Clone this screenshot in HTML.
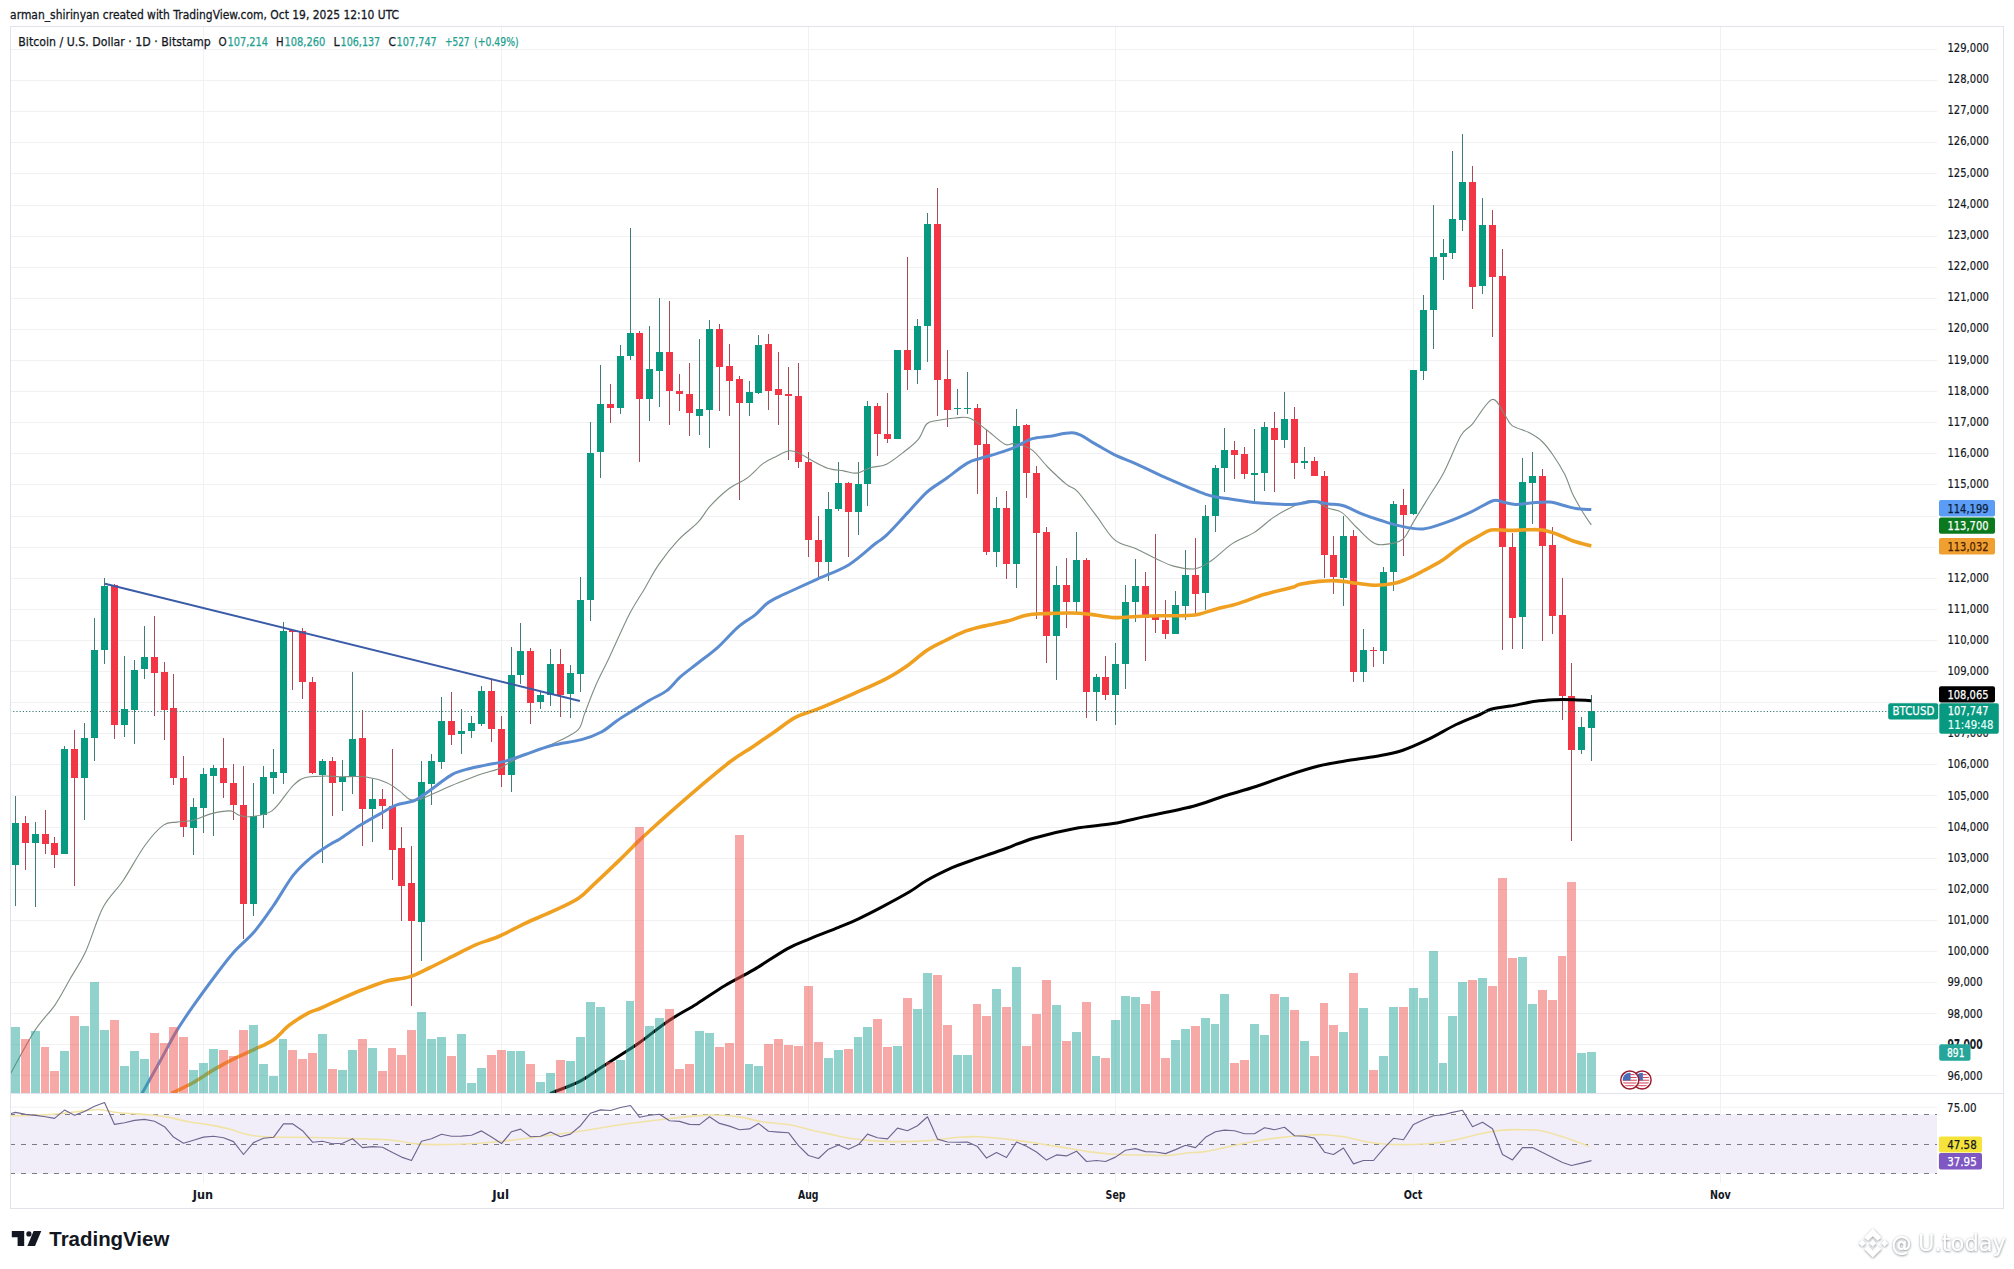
<!DOCTYPE html><html><head><meta charset="utf-8"><title>BTCUSD chart</title><style>html,body{margin:0;padding:0;background:#fff}svg{display:block}text{font-family:'DejaVu Sans', 'Liberation Sans', sans-serif}</style></head><body>
<svg width="2014" height="1269" viewBox="0 0 2014 1269">
<rect width="2014" height="1269" fill="#fff"/>
<text x="10.1" y="19.1" font-size="12.6" fill="#131722" stroke="#131722" stroke-width="0.3" textLength="389" lengthAdjust="spacingAndGlyphs" id="hdr">arman_shirinyan created with TradingView.com, Oct 19, 2025 12:10 UTC</text>
<path d="M10 1075.5H1937 M10 1044.5H1937 M10 1013.5H1937 M10 982.5H1937 M10 951.5H1937 M10 920.5H1937 M10 889.5H1937 M10 858.5H1937 M10 827.5H1937 M10 795.5H1937 M10 764.5H1937 M10 733.5H1937 M10 702.5H1937 M10 671.5H1937 M10 640.5H1937 M10 609.5H1937 M10 578.5H1937 M10 547.5H1937 M10 516.5H1937 M10 484.5H1937 M10 453.5H1937 M10 422.5H1937 M10 391.5H1937 M10 360.5H1937 M10 329.5H1937 M10 298.5H1937 M10 267.5H1937 M10 236.5H1937 M10 205.5H1937 M10 173.5H1937 M10 142.5H1937 M10 111.5H1937 M10 80.5H1937 M10 49.5H1937" stroke="#f1f1f3" stroke-width="1" fill="none"/>
<path d="M203.5 27V1183 M501.5 27V1183 M808.5 27V1183 M1115.5 27V1183 M1413.5 27V1183 M1720.5 27V1183" stroke="#f1f1f3" stroke-width="1" fill="none"/>
<path d="M10 1107.2H1937" stroke="#f1f1f3" stroke-width="1"/>
<rect x="10" y="1114.5" width="1927" height="59.0" fill="#f2eef9"/>
<path d="M10 1114.5H1937 M10 1144.5H1937 M10 1173.5H1937" stroke="#787b86" stroke-width="1" stroke-dasharray="5 6" fill="none"/>
<defs><clipPath id="mc"><rect x="10" y="27" width="1927" height="1066.5"/></clipPath><clipPath id="rc"><rect x="10" y="1094" width="1927" height="89"/></clipPath></defs>
<g clip-path="url(#mc)">
<path d="M15 796h1V906h-1Z M35 822h1V907h-1Z M64 746h1V854h-1Z M84 723h1V820h-1Z M94 618h1V761h-1Z M104 578h1V664h-1Z M124 656h1V737h-1Z M134 660h1V744h-1Z M144 626h1V679h-1Z M193 798h1V855h-1Z M203 768h1V833h-1Z M213 765h1V836h-1Z M253 783h1V916h-1Z M263 766h1V828h-1Z M273 749h1V794h-1Z M283 622h1V784h-1Z M322 759h1V863h-1Z M342 760h1V811h-1Z M352 672h1V794h-1Z M372 779h1V842h-1Z M421 761h1V961h-1Z M431 754h1V805h-1Z M441 697h1V769h-1Z M461 709h1V754h-1Z M471 716h1V738h-1Z M481 686h1V726h-1Z M511 647h1V792h-1Z M520 623h1V684h-1Z M540 691h1V709h-1Z M550 649h1V706h-1Z M570 665h1V718h-1Z M580 577h1V692h-1Z M590 422h1V621h-1Z M600 365h1V478h-1Z M620 345h1V414h-1Z M630 228h1V360h-1Z M649 326h1V421h-1Z M659 298h1V407h-1Z M699 339h1V435h-1Z M709 320h1V448h-1Z M749 381h1V416h-1Z M758 335h1V394h-1Z M828 492h1V581h-1Z M838 462h1V511h-1Z M858 462h1V535h-1Z M867 401h1V506h-1Z M897 350h1V439h-1Z M917 319h1V384h-1Z M927 213h1V362h-1Z M957 389h1V415h-1Z M967 372h1V414h-1Z M996 497h1V567h-1Z M1016 409h1V588h-1Z M1056 566h1V680h-1Z M1076 532h1V612h-1Z M1096 674h1V721h-1Z M1115 643h1V725h-1Z M1125 585h1V689h-1Z M1135 559h1V622h-1Z M1175 591h1V634h-1Z M1185 550h1V620h-1Z M1205 505h1V610h-1Z M1215 465h1V532h-1Z M1224 428h1V492h-1Z M1254 429h1V502h-1Z M1264 422h1V491h-1Z M1284 392h1V448h-1Z M1304 447h1V469h-1Z M1343 516h1V606h-1Z M1363 629h1V682h-1Z M1383 567h1V664h-1Z M1393 501h1V591h-1Z M1413 370h1V515h-1Z M1423 295h1V380h-1Z M1433 205h1V349h-1Z M1443 239h1V280h-1Z M1452 151h1V259h-1Z M1462 134h1V231h-1Z M1482 198h1V294h-1Z M1522 458h1V649h-1Z M1532 452h1V524h-1Z M1581 717h1V754h-1Z M1591 695h1V761h-1Z" fill="#3f7d74"/>
<path d="M25 816h1V870h-1Z M45 810h1V854h-1Z M54 837h1V868h-1Z M74 730h1V886h-1Z M114 584h1V739h-1Z M154 616h1V716h-1Z M164 662h1V740h-1Z M173 674h1V785h-1Z M183 756h1V837h-1Z M223 738h1V798h-1Z M233 764h1V820h-1Z M243 766h1V939h-1Z M292 630h1V690h-1Z M302 628h1V699h-1Z M312 677h1V774h-1Z M332 757h1V816h-1Z M362 710h1V846h-1Z M382 789h1V829h-1Z M392 749h1V880h-1Z M401 827h1V921h-1Z M411 846h1V1006h-1Z M451 692h1V745h-1Z M491 680h1V742h-1Z M501 716h1V787h-1Z M530 648h1V724h-1Z M560 649h1V717h-1Z M610 384h1V423h-1Z M639 331h1V462h-1Z M669 301h1V425h-1Z M679 374h1V411h-1Z M689 363h1V436h-1Z M719 324h1V411h-1Z M729 344h1V416h-1Z M739 376h1V500h-1Z M768 334h1V410h-1Z M778 352h1V425h-1Z M788 367h1V460h-1Z M798 363h1V468h-1Z M808 452h1V557h-1Z M818 516h1V578h-1Z M848 482h1V557h-1Z M877 403h1V456h-1Z M887 393h1V443h-1Z M907 257h1V390h-1Z M937 188h1V416h-1Z M947 350h1V427h-1Z M977 404h1V494h-1Z M986 430h1V555h-1Z M1006 491h1V579h-1Z M1026 424h1V498h-1Z M1036 466h1V619h-1Z M1046 527h1V663h-1Z M1066 558h1V628h-1Z M1086 558h1V718h-1Z M1105 656h1V700h-1Z M1145 572h1V661h-1Z M1155 534h1V633h-1Z M1165 600h1V639h-1Z M1195 538h1V615h-1Z M1234 441h1V479h-1Z M1244 447h1V479h-1Z M1274 412h1V492h-1Z M1294 407h1V479h-1Z M1314 457h1V476h-1Z M1324 471h1V578h-1Z M1333 536h1V594h-1Z M1353 530h1V682h-1Z M1373 647h1V667h-1Z M1403 489h1V556h-1Z M1472 166h1V309h-1Z M1492 210h1V337h-1Z M1502 249h1V650h-1Z M1512 533h1V649h-1Z M1542 469h1V641h-1Z M1552 527h1V634h-1Z M1562 578h1V720h-1Z M1571 663h1V841h-1Z" fill="#a54b57"/>
<path d="M12 823h7V865h-7Z M32 834h7V843h-7Z M61 749h7V854h-7Z M81 738h7V778h-7Z M91 650h7V738h-7Z M101 586h7V650h-7Z M121 709h7V725h-7Z M131 670h7V710h-7Z M141 657h7V669h-7Z M190 807h7V828h-7Z M200 774h7V808h-7Z M210 768h7V776h-7Z M250 816h7V904h-7Z M260 777h7V815h-7Z M270 772h7V778h-7Z M280 631h7V773h-7Z M319 761h7V775h-7Z M339 777h7V782h-7Z M349 739h7V777h-7Z M369 799h7V809h-7Z M418 782h7V922h-7Z M428 761h7V784h-7Z M438 721h7V762h-7Z M458 731h7V734h-7Z M468 723h7V731h-7Z M478 691h7V724h-7Z M508 675h7V775h-7Z M517 651h7V675h-7Z M537 695h7V702h-7Z M547 664h7V695h-7Z M567 673h7V694h-7Z M577 600h7V674h-7Z M587 453h7V600h-7Z M597 404h7V452h-7Z M617 356h7V408h-7Z M627 333h7V356h-7Z M646 369h7V399h-7Z M656 352h7V371h-7Z M696 409h7V416h-7Z M706 329h7V410h-7Z M746 392h7V403h-7Z M755 345h7V393h-7Z M825 509h7V562h-7Z M835 483h7V509h-7Z M855 484h7V512h-7Z M864 406h7V484h-7Z M894 350h7V439h-7Z M914 326h7V370h-7Z M924 224h7V326h-7Z M954 408h7V409h-7Z M964 408h7V409h-7Z M993 508h7V552h-7Z M1013 426h7V564h-7Z M1053 585h7V636h-7Z M1073 560h7V602h-7Z M1093 677h7V692h-7Z M1112 664h7V695h-7Z M1122 602h7V664h-7Z M1132 586h7V602h-7Z M1172 605h7V634h-7Z M1182 575h7V606h-7Z M1202 516h7V593h-7Z M1212 468h7V516h-7Z M1221 450h7V468h-7Z M1251 473h7V475h-7Z M1261 427h7V473h-7Z M1281 419h7V440h-7Z M1301 461h7V463h-7Z M1340 536h7V578h-7Z M1360 650h7V672h-7Z M1380 572h7V651h-7Z M1390 504h7V572h-7Z M1410 370h7V514h-7Z M1420 310h7V371h-7Z M1430 257h7V310h-7Z M1440 253h7V257h-7Z M1449 219h7V253h-7Z M1459 182h7V220h-7Z M1479 225h7V286h-7Z M1519 482h7V617h-7Z M1529 476h7V483h-7Z M1578 727h7V750h-7Z M1588 711h7V728h-7Z" fill="#089981"/>
<path d="M22 823h7V843h-7Z M42 834h7V844h-7Z M51 843h7V855h-7Z M71 749h7V778h-7Z M111 585h7V725h-7Z M151 657h7V673h-7Z M161 672h7V710h-7Z M170 708h7V778h-7Z M180 778h7V827h-7Z M220 768h7V783h-7Z M230 783h7V805h-7Z M240 805h7V904h-7Z M289 630h7V632h-7Z M299 631h7V682h-7Z M309 682h7V773h-7Z M329 761h7V783h-7Z M359 738h7V809h-7Z M379 799h7V806h-7Z M389 806h7V850h-7Z M398 848h7V886h-7Z M408 883h7V921h-7Z M448 721h7V735h-7Z M488 691h7V729h-7Z M498 729h7V775h-7Z M527 651h7V703h-7Z M557 664h7V695h-7Z M607 404h7V408h-7Z M636 333h7V399h-7Z M666 352h7V391h-7Z M676 391h7V394h-7Z M686 394h7V413h-7Z M716 329h7V367h-7Z M726 366h7V381h-7Z M736 379h7V403h-7Z M765 344h7V391h-7Z M775 389h7V395h-7Z M785 394h7V396h-7Z M795 396h7V462h-7Z M805 462h7V540h-7Z M815 540h7V562h-7Z M845 483h7V512h-7Z M874 406h7V434h-7Z M884 434h7V439h-7Z M904 350h7V370h-7Z M934 224h7V380h-7Z M944 379h7V410h-7Z M974 408h7V445h-7Z M983 444h7V552h-7Z M1003 508h7V564h-7Z M1023 425h7V473h-7Z M1033 473h7V533h-7Z M1043 532h7V636h-7Z M1063 585h7V602h-7Z M1083 560h7V692h-7Z M1102 677h7V695h-7Z M1142 586h7V618h-7Z M1152 617h7V620h-7Z M1162 620h7V634h-7Z M1192 575h7V594h-7Z M1231 450h7V455h-7Z M1241 454h7V474h-7Z M1271 428h7V440h-7Z M1291 419h7V463h-7Z M1311 461h7V476h-7Z M1321 476h7V555h-7Z M1330 555h7V577h-7Z M1350 536h7V672h-7Z M1370 650h7V651h-7Z M1400 505h7V515h-7Z M1469 182h7V287h-7Z M1489 225h7V277h-7Z M1499 276h7V547h-7Z M1509 547h7V618h-7Z M1539 476h7V546h-7Z M1549 545h7V616h-7Z M1559 615h7V696h-7Z M1568 696h7V750h-7Z" fill="#f23645"/>
<path d="M10.0 1075.0C10.1 1074.7 6.6 1080.8 10.7 1073.4C14.8 1066.0 27.4 1042.0 34.8 1030.6C42.2 1019.2 49.1 1013.6 54.9 1005.1C60.7 996.6 64.5 988.6 69.6 979.7C74.7 970.8 80.1 963.6 85.7 951.5C91.3 939.4 96.8 919.1 103.1 907.3C109.3 895.5 116.3 890.8 123.2 880.5C130.1 870.2 138.0 854.9 144.7 845.7C151.4 836.5 158.1 829.0 163.4 825.1C168.8 821.2 171.9 822.9 176.8 822.1C181.7 821.3 187.1 821.7 192.9 820.3C198.7 818.9 205.3 815.2 211.6 813.6C217.8 812.0 225.9 810.7 230.4 810.9C234.9 811.1 235.3 813.9 238.4 814.9C241.5 815.9 243.5 817.5 249.1 816.8C254.7 816.1 264.8 815.9 271.9 810.9C279.0 805.9 286.6 792.3 292.0 786.8C297.4 781.3 298.6 779.7 304.0 777.9C309.4 776.1 318.1 776.3 324.1 776.1C330.1 775.9 332.9 776.6 339.9 776.7C346.9 776.9 358.6 776.0 366.3 777.0C374.0 778.0 380.7 780.3 386.2 782.6C391.7 784.9 395.5 788.1 399.4 790.9C403.3 793.7 406.1 797.7 409.4 799.2C412.7 800.7 414.9 800.9 419.3 799.8C423.7 798.7 429.3 795.4 435.9 792.5C442.5 789.6 451.3 785.7 459.0 782.6C466.7 779.5 475.6 776.0 482.2 773.7C488.8 771.4 493.2 771.1 498.7 768.7C504.2 766.3 509.2 762.3 515.3 759.4C521.4 756.5 528.0 754.2 535.2 751.2C542.4 748.2 551.1 744.8 558.3 741.2C565.5 737.6 573.8 734.4 578.2 729.7C582.6 725.0 581.9 720.4 584.8 713.1C587.7 705.8 591.5 695.0 595.6 685.7C599.7 676.4 603.8 669.0 609.4 657.2C615.0 645.4 623.2 626.3 629.1 614.8C635.0 603.3 640.0 596.6 644.9 588.2C649.8 579.8 653.1 572.7 658.7 564.6C664.3 556.5 671.8 547.0 678.4 539.9C685.0 532.8 692.9 527.8 698.1 522.2C703.4 516.6 705.0 511.8 709.9 506.4C714.8 501.0 721.4 494.4 727.6 489.7C733.8 484.9 741.3 482.3 747.3 477.9C753.2 473.5 758.4 467.0 763.3 463.4C768.2 459.8 772.5 458.3 776.7 456.2C780.9 454.1 785.1 451.4 788.7 450.8C792.3 450.2 794.3 451.1 798.1 452.7C801.9 454.3 806.6 457.6 811.5 460.2C816.4 462.8 822.2 466.4 827.6 468.2C833.0 470.0 838.7 470.1 843.6 470.9C848.5 471.7 852.5 473.6 857.0 473.1C861.5 472.6 865.5 469.2 870.4 467.7C875.3 466.2 880.7 467.0 886.5 464.2C892.3 461.4 899.9 455.0 905.3 450.8C910.7 446.6 915.1 443.3 918.7 438.8C922.3 434.3 923.6 427.1 926.7 424.0C929.8 420.9 932.7 421.5 937.4 420.5C942.1 419.5 949.6 418.4 955.0 418.0C960.4 417.6 964.8 416.3 970.0 418.2C975.2 420.1 980.3 425.2 986.1 429.5C991.9 433.8 1000.1 441.8 1004.8 444.2C1009.5 446.6 1009.7 442.8 1014.2 443.7C1018.7 444.6 1026.0 445.7 1031.6 449.6C1037.2 453.5 1041.9 461.2 1047.7 467.0C1053.5 472.8 1061.6 480.4 1066.5 484.4C1071.4 488.4 1072.3 486.0 1077.2 491.1C1082.1 496.2 1089.7 507.1 1095.9 515.2C1102.2 523.3 1108.0 534.3 1114.7 539.9C1121.4 545.5 1128.9 545.5 1136.1 548.7C1143.2 552.0 1151.3 556.5 1157.6 559.4C1163.8 562.3 1167.3 564.5 1173.6 566.1C1179.8 567.7 1188.8 569.7 1195.1 568.8C1201.4 567.9 1205.0 565.0 1211.2 560.8C1217.5 556.6 1225.5 548.1 1232.6 543.4C1239.7 538.7 1247.3 536.9 1254.0 532.6C1260.7 528.4 1267.0 521.9 1272.8 517.9C1278.6 513.9 1282.7 511.4 1288.9 508.5C1295.1 505.6 1303.4 500.6 1310.0 500.5C1316.6 500.4 1323.1 506.2 1328.4 508.2C1333.7 510.2 1336.9 509.2 1341.6 512.4C1346.3 515.6 1351.7 522.6 1356.7 527.5C1361.8 532.4 1367.5 538.9 1371.9 541.7C1376.3 544.6 1378.2 544.9 1383.2 544.6C1388.2 544.3 1397.0 543.6 1402.1 539.8C1407.1 536.0 1409.1 529.0 1413.5 521.9C1417.9 514.8 1423.6 505.5 1428.6 497.3C1433.6 489.1 1438.3 482.9 1443.7 472.7C1449.1 462.4 1456.1 443.9 1460.8 435.8C1465.5 427.8 1466.9 430.4 1472.1 424.4C1477.3 418.3 1486.6 401.2 1492.0 399.5C1497.4 397.8 1501.0 409.7 1504.3 414.0C1507.6 418.3 1507.7 422.3 1511.8 425.4C1515.9 428.5 1523.9 429.9 1528.9 432.6C1534.0 435.3 1538.0 437.6 1542.1 441.5C1546.2 445.4 1549.7 450.2 1553.5 455.7C1557.3 461.2 1561.6 468.3 1564.8 474.6C1568.0 480.9 1569.6 487.5 1572.4 493.5C1575.2 499.5 1578.7 505.2 1581.8 510.5C1584.9 515.8 1589.7 522.6 1591.3 525.0" fill="none" stroke="#7f8d80" stroke-width="1.1" stroke-linejoin="round"/>
<path d="M142.0 1093.5C145.1 1087.9 154.9 1070.5 160.7 1060.0C166.5 1049.5 171.4 1039.5 176.8 1030.6C182.2 1021.7 186.7 1015.3 192.9 1006.4C199.2 997.5 207.6 985.9 214.3 977.0C221.0 968.1 226.4 960.5 233.1 952.9C239.8 945.3 247.8 939.2 254.5 931.4C261.2 923.6 266.7 915.4 273.2 906.0C279.7 896.6 287.1 883.2 293.3 875.2C299.6 867.2 304.6 862.9 310.7 857.8C316.8 852.7 325.1 847.5 330.0 844.4C334.9 841.2 334.9 842.0 339.9 838.9C344.8 835.8 353.1 829.7 359.7 825.6C366.3 821.5 373.5 817.5 379.6 814.1C385.7 810.7 390.0 807.5 396.1 805.1C402.2 802.7 409.4 803.0 416.0 799.8C422.6 796.6 429.8 790.1 435.9 785.9C442.0 781.6 446.9 777.2 452.4 774.3C457.9 771.4 463.5 770.2 469.0 768.7C474.5 767.2 479.4 766.4 485.5 765.1C491.6 763.8 498.8 762.9 505.4 761.1C512.0 759.3 517.5 757.1 525.2 754.5C532.9 751.9 542.3 748.0 551.7 745.5C561.1 743.0 573.2 741.9 581.5 739.6C589.8 737.4 595.4 735.2 601.4 732.0C607.4 728.8 611.7 724.3 617.3 720.5C622.9 716.7 629.5 712.8 635.0 709.4C640.5 706.0 644.7 703.1 650.0 700.0C655.3 696.9 661.8 694.5 666.8 690.6C671.8 686.8 675.1 681.5 680.3 676.9C685.5 672.3 691.8 667.9 698.0 663.0C704.2 658.1 711.2 653.2 717.8 647.3C724.4 641.4 731.3 633.0 737.5 627.6C743.7 622.2 750.3 618.8 755.2 614.8C760.1 610.8 762.9 606.6 767.0 603.5C771.1 600.4 776.1 598.1 780.0 596.1C783.9 594.1 784.0 594.3 790.1 591.5C796.2 588.7 807.0 583.9 816.8 579.4C826.6 574.9 839.2 570.7 849.0 564.7C858.8 558.7 869.5 548.2 875.8 543.3C882.0 538.4 881.1 540.4 886.5 535.2C891.9 530.1 901.3 519.5 908.0 512.4C914.7 505.2 920.5 497.9 926.7 492.3C933.0 486.7 938.8 483.8 945.5 479.0C952.2 474.2 961.1 466.8 966.9 463.4C972.6 460.0 975.0 460.1 980.0 458.5C985.0 456.9 991.3 455.3 996.8 453.6C1002.3 451.9 1007.1 450.6 1012.9 448.2C1018.7 445.8 1025.3 440.9 1031.6 438.9C1037.8 436.9 1043.2 437.2 1050.4 436.2C1057.6 435.2 1067.3 431.9 1074.5 433.0C1081.7 434.1 1086.6 439.2 1093.3 442.9C1100.0 446.5 1107.6 451.4 1114.7 454.9C1121.8 458.4 1127.6 460.0 1136.1 463.8C1144.6 467.6 1154.0 472.6 1165.6 477.7C1177.2 482.8 1195.5 490.8 1205.8 494.3C1216.1 497.8 1219.2 497.2 1227.2 498.6C1235.2 500.0 1243.3 501.4 1254.0 502.4C1264.7 503.4 1281.6 504.6 1291.5 504.5C1301.4 504.4 1307.0 501.7 1313.2 501.6C1319.4 501.5 1323.4 503.2 1328.4 503.9C1333.5 504.6 1338.2 504.2 1343.5 505.8C1348.8 507.4 1354.5 510.9 1360.5 513.3C1366.5 515.7 1373.1 518.0 1379.4 520.0C1385.7 522.0 1391.2 524.1 1398.4 525.6C1405.7 527.1 1414.7 529.5 1422.9 528.9C1431.1 528.3 1439.6 524.6 1447.5 521.9C1455.4 519.1 1462.6 515.9 1470.2 512.4C1477.8 508.9 1487.5 502.4 1492.9 500.7C1498.3 499.0 1498.6 501.4 1502.4 502.0C1506.2 502.6 1510.9 504.3 1515.6 504.5C1520.3 504.7 1525.1 503.4 1530.8 503.0C1536.5 502.6 1544.0 501.5 1549.7 502.0C1555.4 502.5 1560.4 504.7 1564.8 505.8C1569.2 506.9 1571.7 508.0 1576.1 508.6C1580.5 509.2 1588.8 509.4 1591.3 509.6" fill="none" stroke="#5b8cd0" stroke-width="3" stroke-linejoin="round"/>
<path d="M172.0 1093.5C172.3 1093.3 170.6 1094.0 174.1 1092.2C177.6 1090.4 186.2 1086.6 192.9 1082.8C199.6 1079.0 207.2 1073.6 214.3 1069.4C221.4 1065.2 229.0 1061.2 235.7 1057.9C242.4 1054.6 248.2 1052.3 254.5 1049.3C260.8 1046.3 267.4 1043.9 273.2 1039.9C279.0 1035.9 283.5 1029.7 289.3 1025.2C295.1 1020.7 303.0 1015.9 308.1 1013.1C313.2 1010.3 314.7 1010.8 320.0 1008.5C325.3 1006.2 332.7 1002.6 339.9 999.4C347.1 996.2 355.3 992.5 363.0 989.5C370.7 986.5 378.5 983.3 386.2 981.2C393.9 979.1 402.2 979.1 409.4 976.9C416.6 974.7 422.0 971.4 429.2 968.0C436.4 964.6 444.7 960.3 452.4 956.4C460.1 952.5 467.9 948.1 475.6 944.8C483.3 941.5 490.4 940.1 498.7 936.5C507.0 932.9 516.4 927.4 525.2 923.3C534.0 919.2 542.9 915.8 551.7 911.7C560.5 907.6 571.0 903.2 578.2 898.5C585.4 893.8 587.7 890.1 594.7 883.6C601.7 877.1 612.8 866.6 620.0 859.6C627.2 852.6 632.7 846.8 637.7 841.9C642.7 837.0 644.7 835.4 650.0 830.5C655.3 825.6 661.3 820.1 669.6 812.8C677.9 805.5 689.4 795.4 699.6 786.8C709.8 778.2 722.0 767.9 730.8 761.3C739.6 754.6 745.3 751.8 752.5 746.9C759.7 742.0 766.9 737.1 774.0 732.2C781.1 727.3 788.3 721.2 795.4 717.4C802.5 713.6 807.0 713.4 816.8 709.4C826.6 705.4 842.8 698.4 854.4 693.3C866.0 688.2 877.6 683.3 886.5 678.6C895.4 673.9 901.3 669.9 908.0 665.2C914.7 660.5 920.5 654.5 926.7 650.4C933.0 646.3 939.2 643.6 945.5 640.5C951.8 637.4 958.5 634.0 964.2 631.7C970.0 629.5 975.9 628.1 980.0 627.0C984.1 625.9 984.2 626.1 988.8 625.1C993.4 624.1 1001.2 622.8 1007.5 621.1C1013.8 619.5 1020.0 616.5 1026.3 615.2C1032.5 614.0 1037.4 614.0 1045.0 613.6C1052.6 613.2 1064.2 612.9 1071.8 613.0C1079.4 613.1 1083.4 613.6 1090.6 614.4C1097.8 615.2 1107.1 617.2 1114.7 617.6C1122.3 618.0 1128.9 616.8 1136.1 616.5C1143.2 616.2 1150.0 615.8 1157.6 615.7C1165.2 615.6 1175.0 615.9 1181.7 615.7C1188.4 615.5 1192.0 615.5 1197.8 614.4C1203.6 613.3 1209.8 610.8 1216.5 609.0C1223.2 607.2 1230.0 606.1 1238.0 603.6C1246.0 601.1 1255.8 597.0 1264.7 594.3C1273.6 591.6 1285.6 589.3 1291.5 587.6C1297.4 585.9 1295.4 585.3 1300.0 584.3C1304.6 583.3 1312.6 582.0 1318.9 581.4C1325.2 580.8 1331.5 580.6 1337.8 580.9C1344.1 581.2 1350.4 582.6 1356.7 583.3C1363.0 584.0 1369.4 585.2 1375.7 585.2C1382.0 585.2 1389.2 584.4 1394.6 583.3C1399.9 582.2 1403.1 580.6 1407.8 578.6C1412.5 576.6 1417.2 574.0 1422.9 571.0C1428.6 568.0 1435.6 564.7 1441.9 560.6C1448.2 556.5 1454.5 550.6 1460.8 546.4C1467.1 542.2 1474.7 538.2 1479.7 535.5C1484.7 532.8 1486.3 530.9 1491.0 530.0C1495.7 529.1 1502.1 530.4 1508.1 530.4C1514.1 530.4 1521.3 529.9 1527.0 529.8C1532.7 529.7 1537.1 529.3 1542.1 530.0C1547.1 530.7 1552.2 532.4 1557.2 534.2C1562.2 536.0 1566.7 538.8 1572.4 540.8C1578.1 542.8 1588.2 545.0 1591.3 545.9" fill="none" stroke="#f0a020" stroke-width="3.6" stroke-linejoin="round"/>
<path d="M550.0 1093.5C550.6 1093.3 548.7 1094.0 553.4 1092.1C558.1 1090.2 570.2 1086.3 578.2 1082.2C586.2 1078.1 593.7 1072.3 601.4 1067.3C609.1 1062.3 618.1 1056.6 624.5 1052.4C630.9 1048.2 632.7 1047.5 640.0 1042.2C647.3 1037.0 658.9 1027.3 668.4 1020.9C677.9 1014.5 687.3 1009.8 696.8 1003.9C706.2 998.0 715.6 991.2 725.1 985.5C734.6 979.8 743.1 976.0 753.5 969.9C763.9 963.8 778.1 953.8 787.6 948.6C797.1 943.4 801.8 942.2 810.3 938.6C818.8 935.0 830.6 930.6 838.6 927.3C846.6 924.0 851.4 922.1 858.5 918.8C865.6 915.5 872.7 911.9 881.2 907.4C889.7 902.9 902.0 896.3 909.6 891.8C917.2 887.3 919.5 884.5 926.6 880.5C933.7 876.5 944.9 871.0 952.1 867.7C959.3 864.5 961.7 864.0 970.0 861.0C978.3 858.0 991.2 853.8 1001.8 850.0C1012.4 846.2 1021.4 841.8 1033.6 838.2C1045.8 834.6 1061.7 830.8 1074.9 828.4C1088.1 826.0 1101.3 825.6 1113.0 823.6C1124.7 821.6 1131.6 819.5 1144.8 816.6C1158.0 813.8 1179.2 809.9 1192.4 806.5C1205.6 803.1 1213.6 799.3 1224.2 796.0C1234.8 792.7 1245.4 790.0 1256.0 786.5C1266.6 783.0 1277.2 778.8 1287.8 775.3C1298.4 771.8 1310.0 768.2 1319.5 765.8C1329.0 763.4 1335.5 762.6 1345.0 761.0C1354.5 759.4 1367.2 758.0 1376.7 756.3C1386.2 754.5 1393.7 753.3 1402.2 750.5C1410.7 747.7 1418.6 744.0 1427.6 739.7C1436.6 735.4 1447.5 728.7 1456.2 724.5C1464.9 720.3 1474.2 717.0 1480.0 714.5C1485.8 712.0 1486.1 710.6 1491.1 709.2C1496.1 707.8 1502.8 707.4 1510.2 706.1C1517.6 704.8 1528.2 702.4 1535.6 701.3C1543.0 700.2 1548.3 700.0 1554.7 699.7C1561.1 699.4 1567.6 699.5 1573.7 699.7C1579.8 699.9 1588.3 700.5 1591.2 700.7" fill="none" stroke="#000" stroke-width="3" stroke-linejoin="round"/>
<path d="M11 1027H20V1093H11Z M31 1031H40V1093H31Z M60 1051H69V1093H60Z M80 1026H89V1093H80Z M90 982H99V1093H90Z M100 1030H109V1093H100Z M120 1066H129V1093H120Z M130 1051H139V1093H130Z M140 1059H149V1093H140Z M189 1070H198V1093H189Z M199 1063H208V1093H199Z M209 1049H218V1093H209Z M249 1025H258V1093H249Z M259 1064H268V1093H259Z M269 1076H278V1093H269Z M279 1039H287V1093H279Z M318 1034H327V1093H318Z M338 1070H347V1093H338Z M348 1050H357V1093H348Z M368 1048H377V1093H368Z M417 1012H426V1093H417Z M427 1039H436V1093H427Z M437 1037H446V1093H437Z M457 1034H466V1093H457Z M467 1083H476V1093H467Z M477 1068H486V1093H477Z M507 1051H515V1093H507Z M516 1051H525V1093H516Z M536 1082H545V1093H536Z M546 1073H555V1093H546Z M566 1061H575V1093H566Z M576 1037H585V1093H576Z M586 1002H595V1093H586Z M596 1007H605V1093H596Z M616 1060H625V1093H616Z M626 1001H634V1093H626Z M645 1026H654V1093H645Z M655 1018H664V1093H655Z M695 1031H704V1093H695Z M705 1033H714V1093H705Z M745 1064H753V1093H745Z M754 1066H763V1093H754Z M824 1058H833V1093H824Z M834 1050H843V1093H834Z M854 1037H862V1093H854Z M863 1027H872V1093H863Z M893 1046H902V1093H893Z M913 1009H922V1093H913Z M923 973H932V1093H923Z M953 1055H962V1093H953Z M963 1055H972V1093H963Z M992 989H1001V1093H992Z M1012 967H1021V1093H1012Z M1052 1005H1061V1093H1052Z M1072 1032H1081V1093H1072Z M1092 1056H1100V1093H1092Z M1111 1020H1120V1093H1111Z M1121 996H1130V1093H1121Z M1131 997H1140V1093H1131Z M1171 1040H1180V1093H1171Z M1181 1029H1190V1093H1181Z M1201 1018H1210V1093H1201Z M1211 1024H1219V1093H1211Z M1220 994H1229V1093H1220Z M1250 1024H1259V1093H1250Z M1260 1035H1269V1093H1260Z M1280 997H1289V1093H1280Z M1300 1041H1309V1093H1300Z M1339 1032H1348V1093H1339Z M1359 1008H1368V1093H1359Z M1379 1056H1388V1093H1379Z M1389 1007H1398V1093H1389Z M1409 988H1418V1093H1409Z M1419 998H1428V1093H1419Z M1429 951H1438V1093H1429Z M1439 1063H1447V1093H1439Z M1448 1016H1457V1093H1448Z M1458 982H1467V1093H1458Z M1478 978H1487V1093H1478Z M1518 957H1527V1093H1518Z M1528 1004H1537V1093H1528Z M1577 1053H1586V1093H1577Z M1587 1052H1596V1093H1587Z" fill="rgba(38,166,154,0.5)"/>
<path d="M21 1039H30V1093H21Z M41 1047H49V1093H41Z M50 1071H59V1093H50Z M70 1016H79V1093H70Z M110 1020H119V1093H110Z M150 1033H159V1093H150Z M160 1043H168V1093H160Z M169 1027H178V1093H169Z M179 1037H188V1093H179Z M219 1050H228V1093H219Z M229 1056H238V1093H229Z M239 1030H248V1093H239Z M288 1050H297V1093H288Z M298 1059H307V1093H298Z M308 1053H317V1093H308Z M328 1069H337V1093H328Z M358 1039H367V1093H358Z M378 1071H387V1093H378Z M388 1048H396V1093H388Z M397 1055H406V1093H397Z M407 1030H416V1093H407Z M447 1056H456V1093H447Z M487 1055H496V1093H487Z M497 1050H506V1093H497Z M526 1064H535V1093H526Z M556 1060H565V1093H556Z M606 1062H615V1093H606Z M635 827H644V1093H635Z M665 1009H674V1093H665Z M675 1069H684V1093H675Z M685 1064H694V1093H685Z M715 1047H724V1093H715Z M725 1043H734V1093H725Z M735 835H744V1093H735Z M764 1044H773V1093H764Z M774 1039H783V1093H774Z M784 1045H793V1093H784Z M794 1046H803V1093H794Z M804 986H813V1093H804Z M814 1042H823V1093H814Z M844 1049H853V1093H844Z M873 1019H882V1093H873Z M883 1047H892V1093H883Z M903 998H912V1093H903Z M933 975H942V1093H933Z M943 1025H952V1093H943Z M973 1004H981V1093H973Z M982 1016H991V1093H982Z M1002 1007H1011V1093H1002Z M1022 1046H1031V1093H1022Z M1032 1014H1041V1093H1032Z M1042 980H1051V1093H1042Z M1062 1041H1071V1093H1062Z M1082 1002H1091V1093H1082Z M1101 1058H1110V1093H1101Z M1141 1004H1150V1093H1141Z M1151 991H1160V1093H1151Z M1161 1058H1170V1093H1161Z M1191 1026H1200V1093H1191Z M1230 1063H1239V1093H1230Z M1240 1060H1249V1093H1240Z M1270 994H1279V1093H1270Z M1290 1010H1299V1093H1290Z M1310 1056H1319V1093H1310Z M1320 1003H1328V1093H1320Z M1329 1025H1338V1093H1329Z M1349 973H1358V1093H1349Z M1369 1070H1378V1093H1369Z M1399 1007H1408V1093H1399Z M1468 980H1477V1093H1468Z M1488 986H1497V1093H1488Z M1498 878H1507V1093H1498Z M1508 958H1517V1093H1508Z M1538 990H1547V1093H1538Z M1548 1000H1557V1093H1548Z M1558 956H1566V1093H1558Z M1567 882H1576V1093H1567Z" fill="rgba(239,83,80,0.5)"/>
<line x1="105.0" y1="583.7" x2="579.9" y2="701.0" stroke="#3a5ba8" stroke-width="2"/>
<line x1="10" y1="711.5" x2="1937" y2="711.5" stroke="#3d7a72" stroke-width="1" stroke-dasharray="1.2 2"/>
</g>
<path d="M10 1093.5H2003.5" stroke="#e0e3eb" stroke-width="1"/>
<g clip-path="url(#rc)">
<path d="M10.0 1115.8C13.3 1115.7 21.5 1115.7 29.8 1115.4C38.1 1115.1 50.7 1114.5 59.6 1113.8C68.5 1113.0 76.8 1111.6 83.4 1110.9C90.0 1110.2 93.3 1109.2 99.3 1109.5C105.3 1109.8 110.9 1111.9 119.2 1112.8C127.5 1113.7 140.7 1114.0 149.0 1114.8C157.3 1115.6 162.2 1116.2 168.8 1117.4C175.4 1118.6 182.1 1120.6 188.7 1121.8C195.3 1123.0 201.9 1123.6 208.5 1124.8C215.1 1126.0 221.8 1127.0 228.4 1128.7C235.0 1130.4 241.7 1133.3 248.3 1134.7C254.9 1136.1 259.8 1136.7 268.1 1137.1C276.4 1137.5 288.0 1137.2 297.9 1137.3C307.8 1137.4 317.8 1137.5 327.7 1137.7C337.6 1137.9 347.6 1138.4 357.5 1138.7C367.4 1139.0 380.2 1139.3 387.3 1139.7C394.4 1140.1 395.4 1140.6 400.0 1141.2C404.6 1141.8 409.1 1143.0 414.9 1143.6C420.7 1144.2 426.4 1144.5 434.7 1144.6C443.0 1144.7 454.6 1144.4 464.5 1144.0C474.4 1143.6 484.4 1142.9 494.3 1142.0C504.2 1141.1 514.2 1139.9 524.1 1138.7C534.0 1137.5 544.0 1136.0 553.9 1134.7C563.8 1133.4 573.8 1132.2 583.7 1130.7C593.6 1129.2 603.6 1127.2 613.5 1125.7C623.4 1124.2 633.4 1123.0 643.3 1121.8C653.2 1120.5 663.2 1119.3 673.1 1118.2C683.0 1117.1 694.5 1115.9 702.8 1115.4C711.1 1114.9 716.1 1114.9 722.7 1115.2C729.3 1115.5 736.0 1116.3 742.6 1117.4C749.2 1118.5 754.5 1120.6 762.4 1121.8C770.3 1123.0 782.1 1123.5 790.0 1124.8C797.9 1126.1 803.3 1128.2 809.9 1129.7C816.5 1131.2 823.1 1132.7 829.7 1134.1C836.3 1135.5 843.0 1137.2 849.6 1138.3C856.2 1139.4 861.1 1140.0 869.4 1140.6C877.7 1141.1 889.3 1141.6 899.2 1141.6C909.1 1141.6 919.1 1141.3 929.0 1140.6C938.9 1139.9 950.5 1137.9 958.8 1137.3C967.1 1136.7 972.1 1136.5 978.7 1136.7C985.3 1136.9 990.2 1137.4 998.5 1138.3C1006.8 1139.2 1018.4 1140.6 1028.3 1142.0C1038.2 1143.4 1048.2 1145.0 1058.1 1146.6C1068.0 1148.2 1078.0 1150.3 1087.9 1151.6C1097.8 1152.9 1107.8 1153.9 1117.7 1154.5C1127.6 1155.1 1139.2 1154.9 1147.5 1155.1C1155.8 1155.3 1161.2 1155.8 1167.4 1155.5C1173.7 1155.2 1178.8 1153.9 1185.0 1153.2C1191.2 1152.5 1198.3 1152.5 1204.9 1151.6C1211.5 1150.7 1218.1 1149.0 1224.7 1147.6C1231.3 1146.2 1238.0 1144.5 1244.6 1143.2C1251.2 1141.9 1257.8 1140.7 1264.4 1139.7C1271.0 1138.7 1277.7 1137.8 1284.3 1137.1C1290.9 1136.4 1297.6 1135.7 1304.2 1135.3C1310.8 1134.9 1317.4 1134.5 1324.0 1134.7C1330.6 1134.9 1337.3 1135.6 1343.9 1136.7C1350.5 1137.8 1357.1 1140.0 1363.7 1141.2C1370.3 1142.4 1377.0 1143.4 1383.6 1144.0C1390.2 1144.6 1396.9 1144.6 1403.5 1144.6C1410.1 1144.6 1416.7 1144.4 1423.3 1144.0C1429.9 1143.6 1436.6 1143.0 1443.2 1142.0C1449.8 1141.0 1456.5 1139.5 1463.1 1138.1C1469.7 1136.6 1476.3 1134.6 1482.9 1133.3C1489.5 1132.0 1496.2 1130.7 1502.8 1130.1C1509.4 1129.5 1516.4 1129.6 1522.6 1129.7C1528.8 1129.8 1533.2 1129.3 1540.0 1130.5C1546.8 1131.7 1555.3 1134.4 1563.5 1137.1C1571.7 1139.8 1585.1 1144.9 1589.4 1146.5" fill="none" stroke="#f1e3a6" stroke-width="1.6" stroke-linejoin="round"/>
<polyline points="10.0,1113.8 15.5,1112.4 25.5,1114.4 35.5,1115.4 45.5,1116.8 54.5,1118.4 64.5,1110.1 74.5,1115.2 84.5,1111.5 94.5,1106.3 104.5,1102.5 114.5,1124.4 124.5,1122.8 134.5,1120.4 144.5,1119.4 154.5,1121.2 164.5,1126.7 173.5,1137.1 183.5,1143.2 193.5,1140.2 203.5,1137.1 213.5,1136.3 223.5,1137.7 233.5,1141.6 243.5,1154.5 253.5,1142.6 263.5,1138.3 273.5,1137.3 283.5,1123.8 292.5,1123.8 302.5,1130.7 312.5,1142.2 322.5,1141.2 332.5,1143.8 342.5,1143.2 352.5,1138.7 362.5,1147.6 372.5,1146.6 382.5,1147.2 392.5,1152.6 401.5,1157.1 411.5,1160.5 421.5,1141.2 431.5,1138.7 441.5,1134.3 451.5,1136.3 461.5,1136.1 471.5,1135.3 481.5,1130.9 491.5,1137.1 501.5,1143.6 511.5,1131.7 520.5,1129.1 530.5,1136.7 540.5,1136.3 550.5,1132.1 560.5,1136.7 570.5,1134.1 580.5,1125.7 590.5,1113.2 600.5,1109.9 610.5,1110.5 620.5,1107.5 630.5,1105.5 639.5,1117.2 649.5,1115.2 659.5,1114.2 669.5,1120.8 679.5,1121.4 689.5,1124.4 699.5,1124.6 709.5,1116.8 719.5,1123.4 729.5,1126.1 739.5,1129.7 749.5,1128.9 758.5,1123.4 768.5,1131.3 778.5,1132.1 788.5,1132.7 798.5,1145.6 808.5,1155.5 818.5,1158.5 828.5,1149.2 838.5,1145.0 848.5,1149.2 858.5,1144.6 867.5,1134.1 877.5,1137.7 887.5,1138.9 897.5,1128.1 907.5,1130.7 917.5,1125.7 927.5,1116.8 937.5,1139.1 947.5,1142.0 957.5,1142.2 967.5,1142.0 977.5,1146.6 986.5,1158.1 996.5,1152.6 1006.5,1157.5 1016.5,1142.0 1026.5,1146.2 1036.5,1152.0 1046.5,1160.1 1056.5,1154.9 1066.5,1155.9 1076.5,1151.2 1086.5,1161.5 1096.5,1160.5 1105.5,1161.5 1115.5,1157.1 1125.5,1150.2 1135.5,1148.6 1145.5,1151.6 1155.5,1152.0 1165.5,1153.6 1175.5,1149.6 1185.5,1145.3 1195.5,1147.6 1205.5,1137.3 1215.5,1131.7 1224.5,1130.1 1234.5,1130.7 1244.5,1133.7 1254.5,1133.7 1264.5,1127.7 1274.5,1129.7 1284.5,1127.3 1294.5,1135.7 1304.5,1136.3 1314.5,1138.1 1324.5,1152.2 1333.5,1154.5 1343.5,1148.0 1353.5,1163.9 1363.5,1160.5 1373.5,1160.5 1383.5,1148.6 1393.5,1138.3 1403.5,1139.7 1413.5,1124.4 1423.5,1119.8 1433.5,1115.8 1443.5,1114.8 1452.5,1112.4 1462.5,1110.3 1472.5,1126.7 1482.5,1122.2 1492.5,1128.7 1502.5,1154.5 1512.5,1159.9 1522.5,1147.6 1532.5,1147.6 1542.5,1152.6 1552.5,1157.5 1562.5,1162.5 1571.5,1165.5 1581.5,1163.1 1591.5,1160.6" fill="none" stroke="#6f6590" stroke-width="1.15" stroke-linejoin="round"/>
</g>
<rect x="10.5" y="26.5" width="1993" height="1182" fill="none" stroke="#e0e3eb" stroke-width="1"/>
<text x="18.3" y="45.8" font-size="11.6" fill="#131722" stroke="#131722" stroke-width="0.25" textLength="192.4" lengthAdjust="spacingAndGlyphs" >Bitcoin / U.S. Dollar · 1D · Bitstamp</text>
<text x="218.5" y="45.8" font-size="11.6" fill="#131722" stroke="#131722" stroke-width="0.25" textLength="8.2" lengthAdjust="spacingAndGlyphs" >O</text>
<text x="227.5" y="45.8" font-size="11.6" fill="#22a08f" stroke="#22a08f" stroke-width="0.25" textLength="40.6" lengthAdjust="spacingAndGlyphs" >107,214</text>
<text x="275.9" y="45.8" font-size="11.6" fill="#131722" stroke="#131722" stroke-width="0.25" textLength="7.6" lengthAdjust="spacingAndGlyphs" >H</text>
<text x="284.4" y="45.8" font-size="11.6" fill="#22a08f" stroke="#22a08f" stroke-width="0.25" textLength="40.9" lengthAdjust="spacingAndGlyphs" >108,260</text>
<text x="333.5" y="45.8" font-size="11.6" fill="#131722" stroke="#131722" stroke-width="0.25" textLength="6.2" lengthAdjust="spacingAndGlyphs" >L</text>
<text x="340.6" y="45.8" font-size="11.6" fill="#22a08f" stroke="#22a08f" stroke-width="0.25" textLength="39.6" lengthAdjust="spacingAndGlyphs" >106,137</text>
<text x="388.4" y="45.8" font-size="11.6" fill="#131722" stroke="#131722" stroke-width="0.25" textLength="7.4" lengthAdjust="spacingAndGlyphs" >C</text>
<text x="396.6" y="45.8" font-size="11.6" fill="#22a08f" stroke="#22a08f" stroke-width="0.25" textLength="40.2" lengthAdjust="spacingAndGlyphs" >107,747</text>
<text x="445.0" y="45.8" font-size="11.6" fill="#22a08f" stroke="#22a08f" stroke-width="0.25" textLength="24.5" lengthAdjust="spacingAndGlyphs" >+527</text>
<text x="474.0" y="45.8" font-size="11.6" fill="#22a08f" stroke="#22a08f" stroke-width="0.25" textLength="44.7" lengthAdjust="spacingAndGlyphs" >(+0.49%)</text>
<text x="1947.5" y="1079.9" font-size="12.5" fill="#131722" stroke="#131722" stroke-width="0.2" textLength="35.0" lengthAdjust="spacingAndGlyphs">96,000</text><text x="1947.5" y="1048.7" font-size="12.5" fill="#131722" stroke="#131722" stroke-width="0.2" textLength="35.0" lengthAdjust="spacingAndGlyphs">97,000</text><text x="1947.5" y="1017.6" font-size="12.5" fill="#131722" stroke="#131722" stroke-width="0.2" textLength="35.0" lengthAdjust="spacingAndGlyphs">98,000</text><text x="1947.5" y="986.4" font-size="12.5" fill="#131722" stroke="#131722" stroke-width="0.2" textLength="35.0" lengthAdjust="spacingAndGlyphs">99,000</text><text x="1947.5" y="955.3" font-size="12.5" fill="#131722" stroke="#131722" stroke-width="0.2" textLength="41.4" lengthAdjust="spacingAndGlyphs">100,000</text><text x="1947.5" y="924.1" font-size="12.5" fill="#131722" stroke="#131722" stroke-width="0.2" textLength="41.4" lengthAdjust="spacingAndGlyphs">101,000</text><text x="1947.5" y="893.0" font-size="12.5" fill="#131722" stroke="#131722" stroke-width="0.2" textLength="41.4" lengthAdjust="spacingAndGlyphs">102,000</text><text x="1947.5" y="861.8" font-size="12.5" fill="#131722" stroke="#131722" stroke-width="0.2" textLength="41.4" lengthAdjust="spacingAndGlyphs">103,000</text><text x="1947.5" y="830.7" font-size="12.5" fill="#131722" stroke="#131722" stroke-width="0.2" textLength="41.4" lengthAdjust="spacingAndGlyphs">104,000</text><text x="1947.5" y="799.6" font-size="12.5" fill="#131722" stroke="#131722" stroke-width="0.2" textLength="41.4" lengthAdjust="spacingAndGlyphs">105,000</text><text x="1947.5" y="768.4" font-size="12.5" fill="#131722" stroke="#131722" stroke-width="0.2" textLength="41.4" lengthAdjust="spacingAndGlyphs">106,000</text><text x="1947.5" y="675.0" font-size="12.5" fill="#131722" stroke="#131722" stroke-width="0.2" textLength="41.4" lengthAdjust="spacingAndGlyphs">109,000</text><text x="1947.5" y="643.8" font-size="12.5" fill="#131722" stroke="#131722" stroke-width="0.2" textLength="41.4" lengthAdjust="spacingAndGlyphs">110,000</text><text x="1947.5" y="612.7" font-size="12.5" fill="#131722" stroke="#131722" stroke-width="0.2" textLength="41.4" lengthAdjust="spacingAndGlyphs">111,000</text><text x="1947.5" y="581.5" font-size="12.5" fill="#131722" stroke="#131722" stroke-width="0.2" textLength="41.4" lengthAdjust="spacingAndGlyphs">112,000</text><text x="1947.5" y="488.1" font-size="12.5" fill="#131722" stroke="#131722" stroke-width="0.2" textLength="41.4" lengthAdjust="spacingAndGlyphs">115,000</text><text x="1947.5" y="456.9" font-size="12.5" fill="#131722" stroke="#131722" stroke-width="0.2" textLength="41.4" lengthAdjust="spacingAndGlyphs">116,000</text><text x="1947.5" y="425.8" font-size="12.5" fill="#131722" stroke="#131722" stroke-width="0.2" textLength="41.4" lengthAdjust="spacingAndGlyphs">117,000</text><text x="1947.5" y="394.6" font-size="12.5" fill="#131722" stroke="#131722" stroke-width="0.2" textLength="41.4" lengthAdjust="spacingAndGlyphs">118,000</text><text x="1947.5" y="363.5" font-size="12.5" fill="#131722" stroke="#131722" stroke-width="0.2" textLength="41.4" lengthAdjust="spacingAndGlyphs">119,000</text><text x="1947.5" y="332.3" font-size="12.5" fill="#131722" stroke="#131722" stroke-width="0.2" textLength="41.4" lengthAdjust="spacingAndGlyphs">120,000</text><text x="1947.5" y="301.2" font-size="12.5" fill="#131722" stroke="#131722" stroke-width="0.2" textLength="41.4" lengthAdjust="spacingAndGlyphs">121,000</text><text x="1947.5" y="270.0" font-size="12.5" fill="#131722" stroke="#131722" stroke-width="0.2" textLength="41.4" lengthAdjust="spacingAndGlyphs">122,000</text><text x="1947.5" y="238.9" font-size="12.5" fill="#131722" stroke="#131722" stroke-width="0.2" textLength="41.4" lengthAdjust="spacingAndGlyphs">123,000</text><text x="1947.5" y="207.7" font-size="12.5" fill="#131722" stroke="#131722" stroke-width="0.2" textLength="41.4" lengthAdjust="spacingAndGlyphs">124,000</text><text x="1947.5" y="176.6" font-size="12.5" fill="#131722" stroke="#131722" stroke-width="0.2" textLength="41.4" lengthAdjust="spacingAndGlyphs">125,000</text><text x="1947.5" y="145.4" font-size="12.5" fill="#131722" stroke="#131722" stroke-width="0.2" textLength="41.4" lengthAdjust="spacingAndGlyphs">126,000</text><text x="1947.5" y="114.3" font-size="12.5" fill="#131722" stroke="#131722" stroke-width="0.2" textLength="41.4" lengthAdjust="spacingAndGlyphs">127,000</text><text x="1947.5" y="83.1" font-size="12.5" fill="#131722" stroke="#131722" stroke-width="0.2" textLength="41.4" lengthAdjust="spacingAndGlyphs">128,000</text><text x="1947.5" y="52.0" font-size="12.5" fill="#131722" stroke="#131722" stroke-width="0.2" textLength="41.4" lengthAdjust="spacingAndGlyphs">129,000</text>
<text x="1947.5" y="737.2" font-size="12.5" fill="#131722" stroke="#131722" stroke-width="0.2" textLength="41.4" lengthAdjust="spacingAndGlyphs">107,000</text>
<rect x="1939" y="500" width="56" height="16.4" rx="2" fill="#5b9cf6"/><text x="1947.5" y="512.6" font-size="12.5" fill="#0d1b33" stroke="#0d1b33" stroke-width="0.25" textLength="41.0" lengthAdjust="spacingAndGlyphs">114,199</text>
<rect x="1939" y="517.5" width="56" height="16.2" rx="2" fill="#0b7a1f"/><text x="1947.5" y="530.0" font-size="12.5" fill="#ffffff" stroke="#ffffff" stroke-width="0.25" textLength="41.0" lengthAdjust="spacingAndGlyphs">113,700</text>
<rect x="1939" y="538" width="56" height="16.6" rx="2" fill="#f0a030"/><text x="1947.5" y="550.7" font-size="12.5" fill="#4a1f00" stroke="#4a1f00" stroke-width="0.25" textLength="41.0" lengthAdjust="spacingAndGlyphs">113,032</text>
<rect x="1939" y="686.2" width="56" height="16.3" rx="2" fill="#000"/><text x="1947.5" y="698.8" font-size="12.5" fill="#fff" stroke="#fff" stroke-width="0.25" textLength="41.0" lengthAdjust="spacingAndGlyphs">108,065</text>
<rect x="1939.3" y="703.2" width="59.5" height="30.5" rx="2" fill="#089981"/><text x="1947.8" y="714.8" font-size="12.5" fill="#fff" stroke="#fff" stroke-width="0.25" textLength="40.8" lengthAdjust="spacingAndGlyphs">107,747</text><text x="1947.8" y="728.7" font-size="12.5" fill="#e6fffa" stroke="#e6fffa" stroke-width="0.2" textLength="45.7" lengthAdjust="spacingAndGlyphs">11:49:48</text>
<rect x="1888.2" y="703.2" width="50" height="16.3" rx="2" fill="#089981"/><text x="1892.5" y="715.3" font-size="12" fill="#fff" stroke="#fff" stroke-width="0.25" textLength="41.8" lengthAdjust="spacingAndGlyphs">BTCUSD</text>
<text x="1947.5" y="1048.2" font-size="12.5" fill="#131722" stroke="#131722" stroke-width="0.2" textLength="35" lengthAdjust="spacingAndGlyphs">97,000</text>
<rect x="1939.2" y="1044.3" width="31.3" height="16.4" rx="2" fill="#26a69a"/><text x="1947" y="1056.7" font-size="12.5" fill="#fff" stroke="#fff" stroke-width="0.25" textLength="17.5" lengthAdjust="spacingAndGlyphs">891</text>
<text x="1947.1" y="1112.2" font-size="12.5" fill="#131722" stroke="#131722" stroke-width="0.2" textLength="29.5" lengthAdjust="spacingAndGlyphs">75.00</text>
<rect x="1938.9" y="1136.4" width="43.1" height="16" rx="2" fill="#f5e33c"/><text x="1947.2" y="1148.8" font-size="12.5" fill="#131722" stroke="#131722" stroke-width="0.25" textLength="29.5" lengthAdjust="spacingAndGlyphs">47.58</text>
<rect x="1938.9" y="1153.1" width="43.1" height="16.4" rx="2" fill="#7e57c2"/><text x="1947.2" y="1165.7" font-size="12.5" fill="#ffffff" stroke="#ffffff" stroke-width="0.25" textLength="29.5" lengthAdjust="spacingAndGlyphs">37.95</text>
<text x="192.8" y="1198.9" font-size="12" font-weight="bold" fill="#131722" textLength="20.3" lengthAdjust="spacingAndGlyphs">Jun</text>
<text x="492.2" y="1198.9" font-size="12" font-weight="bold" fill="#131722" textLength="17.0" lengthAdjust="spacingAndGlyphs">Jul</text>
<text x="798.0" y="1198.9" font-size="12" font-weight="bold" fill="#131722" textLength="20.5" lengthAdjust="spacingAndGlyphs">Aug</text>
<text x="1105.6" y="1198.9" font-size="12" font-weight="bold" fill="#131722" textLength="20.0" lengthAdjust="spacingAndGlyphs">Sep</text>
<text x="1403.7" y="1198.9" font-size="12" font-weight="bold" fill="#131722" textLength="18.6" lengthAdjust="spacingAndGlyphs">Oct</text>
<text x="1710.0" y="1198.9" font-size="12" font-weight="bold" fill="#131722" textLength="20.7" lengthAdjust="spacingAndGlyphs">Nov</text>
<clipPath id="fl2"><circle cx="1642.1" cy="1080" r="9.0"/></clipPath><g clip-path="url(#fl2)"><rect x="1633.1" y="1071.0" width="18.0" height="18.0" fill="#fff"/><rect x="1633.1" y="1071.42" width="18.0" height="0.97" fill="#d23a4c"/><rect x="1633.1" y="1074.18" width="18.0" height="0.97" fill="#d23a4c"/><rect x="1633.1" y="1076.95" width="18.0" height="0.97" fill="#d23a4c"/><rect x="1633.1" y="1079.72" width="18.0" height="0.97" fill="#d23a4c"/><rect x="1633.1" y="1082.49" width="18.0" height="0.97" fill="#d23a4c"/><rect x="1633.1" y="1085.26" width="18.0" height="0.97" fill="#d23a4c"/><rect x="1633.1" y="1088.03" width="18.0" height="0.97" fill="#d23a4c"/><rect x="1634.3" y="1072.2" width="8.55" height="8.31" fill="#4a6db8"/></g><circle cx="1642.1" cy="1080" r="9.0" fill="none" stroke="#9b1c30" stroke-width="1.5"/><circle cx="1642.1" cy="1080" r="7.7" fill="none" stroke="#fff" stroke-width="1"/>
<clipPath id="fl1"><circle cx="1629.8" cy="1080" r="9.0"/></clipPath><g clip-path="url(#fl1)"><rect x="1620.8" y="1071.0" width="18.0" height="18.0" fill="#fff"/><rect x="1620.8" y="1071.42" width="18.0" height="0.97" fill="#d23a4c"/><rect x="1620.8" y="1074.18" width="18.0" height="0.97" fill="#d23a4c"/><rect x="1620.8" y="1076.95" width="18.0" height="0.97" fill="#d23a4c"/><rect x="1620.8" y="1079.72" width="18.0" height="0.97" fill="#d23a4c"/><rect x="1620.8" y="1082.49" width="18.0" height="0.97" fill="#d23a4c"/><rect x="1620.8" y="1085.26" width="18.0" height="0.97" fill="#d23a4c"/><rect x="1620.8" y="1088.03" width="18.0" height="0.97" fill="#d23a4c"/><rect x="1622.0" y="1072.2" width="8.55" height="8.31" fill="#4a6db8"/></g><circle cx="1629.8" cy="1080" r="9.0" fill="none" stroke="#9b1c30" stroke-width="1.5"/><circle cx="1629.8" cy="1080" r="7.7" fill="none" stroke="#fff" stroke-width="1"/>
<g fill="#131722"><path d="M11.8 1231h12.4v14.9h-6.6v-8.6h-5.8z"/><circle cx="28.9" cy="1233.9" r="2.6"/><path d="M33.6 1231h7.7l-6.3 14.9h-7.6z"/></g>
<text x="49.3" y="1245.9" font-size="20.5" font-weight="bold" fill="#131722" style="font-family:&quot;Liberation Sans&quot;,sans-serif" textLength="120" lengthAdjust="spacingAndGlyphs" id="tvt">TradingView</text>
<defs><filter id="emb" x="-20%" y="-20%" width="140%" height="140%"><feDropShadow dx="0.2" dy="0.7" stdDeviation="0.8" flood-color="#7d838a" flood-opacity="1"/></filter></defs>
<g filter="url(#emb)" fill="#fff"><path d="M1864.2 1237.6L1872.8 1228.6L1881.4 1237.6L1877.6 1240.8L1872.8 1236.2L1868.0 1240.8Z"/><path d="M1864.2 1248.9L1872.8 1257.6L1881.4 1248.9L1877.6 1245.8L1872.8 1250.4L1868.0 1245.8Z"/><path d="M1858.6 1243.3L1862.1 1239.8L1865.6 1243.3L1862.1 1246.8Z"/><path d="M1881.1 1243.3L1884.6 1239.8L1888.1 1243.3L1884.6 1246.8Z"/><path d="M1869.3 1243.3L1872.8 1239.8L1876.3 1243.3L1872.8 1246.8Z"/><text x="1891.5" y="1251" font-size="22" font-weight="bold" fill="#fff" textLength="20" lengthAdjust="spacingAndGlyphs">@</text><text x="1918" y="1250.6" font-size="23" fill="#fff" textLength="88" lengthAdjust="spacingAndGlyphs" id="wm">U.today</text></g>
</svg></body></html>
